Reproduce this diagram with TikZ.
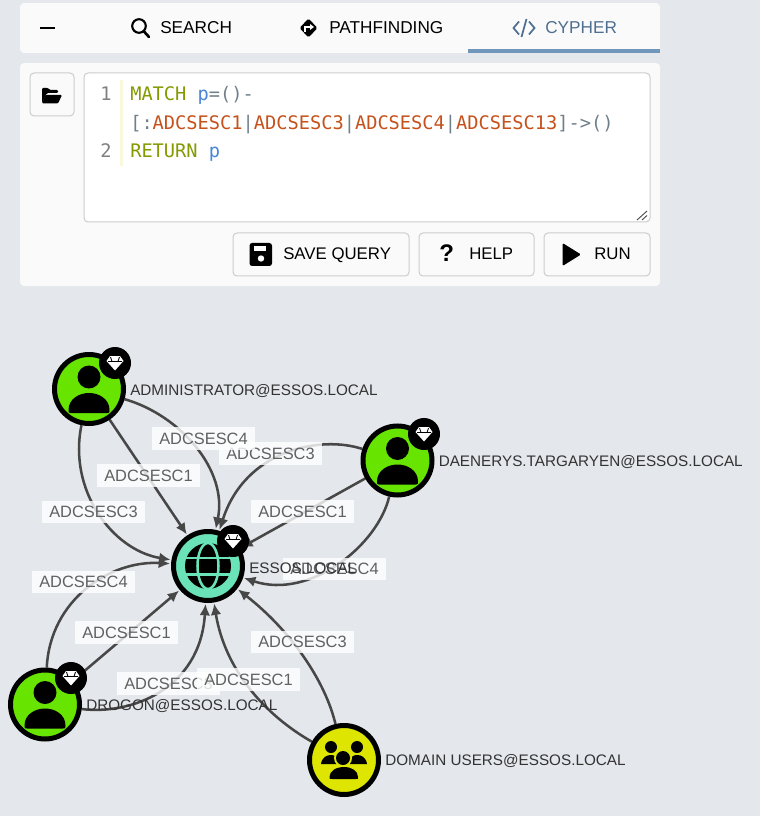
\documentclass[tikz,border=0pt]{standalone}
\usepackage{fontspec}
\setmainfont{Liberation Sans}
\newfontfamily\codefont{DejaVu Sans Mono}
\usetikzlibrary{arrows.meta,backgrounds}
\definecolor{pagebg}{HTML}{E4E7EB}
\definecolor{panelbg}{HTML}{FAFAFA}
\definecolor{btnborder}{HTML}{CCCCCC}
\definecolor{tabblue}{HTML}{7096BB}
\definecolor{tabtext}{HTML}{4F6F90}
\definecolor{gutter}{HTML}{FAF8DC}
\definecolor{kw}{HTML}{859900}
\definecolor{var}{HTML}{4A86D8}
\definecolor{lbl}{HTML}{C5521C}
\definecolor{punct}{HTML}{70808A}
\definecolor{usergreen}{HTML}{67E500}
\definecolor{groupyellow}{HTML}{DDE500}
\definecolor{domainteal}{HTML}{6BE3B9}
\tikzset{
  x=.75pt,y=-.75pt,
  panelbox/.style={fill=panelbg,rounded corners=3pt},
  btnbox/.style={draw=btnborder,line width=.75pt,fill=panelbg,rounded corners=3pt},
  tabtxt/.style={anchor=base west,inner sep=0,font=\fontsize{12.9pt}{14pt}\selectfont},
  btntxt/.style={anchor=base west,inner sep=0,font=\fontsize{12.6pt}{14pt}\selectfont},
  codetxt/.style={anchor=base west,inner sep=0,font=\codefont\fontsize{14pt}{16pt}\selectfont},
  numtxt/.style={anchor=base east,inner sep=0,text=gray,font=\codefont\fontsize{14pt}{16pt}\selectfont},
  gnode/.style={circle,draw=black,line width=3.75pt,minimum size=51.75pt,inner sep=0pt},
  edge/.style={draw=black!72,line width=1.9pt,shorten >=.8pt,-{Latex[length=8.5pt,width=8pt]}},
  elabel/.style={fill=white,fill opacity=.8,text opacity=1,text=black!62,inner sep=0pt,
    minimum width=77.5pt,minimum height=16.8pt,font=\fontsize{12.3pt}{14pt}\selectfont},
  nlabel/.style={anchor=base west,inner sep=0pt,text=black!80,font=\fontsize{11.45pt}{14pt}\selectfont},
  personicon/.pic={
    \fill (0,-12) circle (11.5);
    \fill (-20.5,21) .. controls (-20.5,10) and (-10,4) .. (0,4)
      .. controls (10,4) and (20.5,10) .. (20.5,21)
      .. controls (20.5,24) .. (18,24) -- (-18,24) .. controls (-20.5,24) .. cycle;
  },
  gemicon/.pic={
    \fill[black] (0,0) circle (16);
    \fill[white] (-5,-7) -- (5,-7) -- (8.5,-2) -- (0,7.5) -- (-8.5,-2) -- cycle;
    \draw[black,line width=.6pt] (-7,-1.5) -- (-3,-1.5) -- (-4.5,-6) (7,-1.5) -- (3,-1.5) -- (4.5,-6) (-3,-1.5) -- (3,-1.5);
  },
  globeicon/.pic={
    \fill (0,0) circle (23);
    \draw[domainteal,line width=1.9pt] (0,0) ellipse (10.5 and 23);
    \draw[domainteal,line width=1.9pt] (-22,-8) -- (22,-8) (-22,8.5) -- (22,8.5);
  },
  groupicon/.pic={
    \fill (-13,-13) circle (6) (13,-13) circle (6);
    \fill (-23,4) .. controls (-22,-3) and (-17,-5) .. (-13,-5) .. controls (-9,-5) and (-6,-3) .. (-5,4) -- cycle;
    \fill (23,4) .. controls (22,-3) and (17,-5) .. (13,-5) .. controls (9,-5) and (6,-3) .. (5,4) -- cycle;
    \fill[groupyellow] (-1,-2) circle (9);
    \fill (-1,-2) circle (7);
    \fill[groupyellow] (-16,19) -- (-16,10) .. controls (-12,5) and (10,5) .. (15,10) -- (15,19) -- cycle;
    \fill (-14.5,17) .. controls (-14.5,11) and (-8,7) .. (0,7) .. controls (8,7) and (14,11) .. (14,17) .. controls (14,19) .. (12,19) -- (-12,19) .. controls (-14.5,19) .. cycle;
  },
}
\begin{document}
\begin{tikzpicture}
\useasboundingbox (0,0) rectangle (760,816);
\begin{scope}[on background layer]
\fill[pagebg] (0,0) rectangle (760,816);
\end{scope}

% top panels
\fill[panelbox] (20,3) rectangle (660,53);
\fill[tabblue] (468,49) rectangle (660,53);
\fill[panelbox] (20,63) rectangle (660,286);

% tab bar
\fill[black] (40,27) rectangle (55,29.5);
\draw[black,line width=1.6pt] (139,26) circle (6.8);
\draw[black,line width=2pt,line cap=round] (144,31.5) -- (149,37);
\node[tabtxt] (tsearch) at (160,34) {SEARCH};
\fill[black,rounded corners=1.2pt] (308.5,18.5) -- (317.5,28) -- (308.5,37.5) -- (299.5,28) -- cycle;
\draw[white,line width=1.1pt] (305,32) -- (305,27) -- (311,27);
\fill[white] (310,24) -- (314,27) -- (310,30) -- cycle;
\node[tabtxt] (tpath) at (329,34) {PATHFINDING};
\draw[tabtext,line width=1.3pt] (519,21.5) -- (513.5,28) -- (519,34.5);
\draw[tabtext,line width=1.3pt] (529,21.5) -- (534.5,28) -- (529,34.5);
\draw[tabtext,line width=1.3pt] (526.5,19) -- (521.5,37);
\node[tabtxt,text=tabtext] (tcypher) at (545,34) {CYPHER};

% folder button
\draw[btnbox] (30,73) rectangle (74,116);
\fill[black,rounded corners=.8pt] (42,103) -- (42,88) -- (48,88) -- (50,90) -- (58,90) -- (58,93) -- (47,93) -- (42,103);
\fill[black,rounded corners=.8pt] (45.5,95) -- (62,95) -- (58,103.5) -- (42,103.5) -- cycle;

% editor
\draw[btnbox,fill=white] (84,73) rectangle (650,222);
\fill[gutter] (120,80) rectangle (123,166);
\node[numtxt] (n1) at (112,101) {1};
\node[numtxt] (n2) at (112,158) {2};
\node[codetxt] (c1) at (130,101) {\textcolor{kw}{MATCH} \textcolor{var}{p}\textcolor{punct}{=()-}};
\node[codetxt] (c2) at (130,129.5) {\textcolor{punct}{[:}\textcolor{lbl}{ADCSESC1}\textcolor{punct}{|}\textcolor{lbl}{ADCSESC3}\textcolor{punct}{|}\textcolor{lbl}{ADCSESC4}\textcolor{punct}{|}\textcolor{lbl}{ADCSESC13}\textcolor{punct}{]->()}};
\node[codetxt] (c3) at (130,158) {\textcolor{kw}{RETURN} \textcolor{var}{p}};
\draw[black!70,line width=.7pt] (637,220) -- (647,211) (642,220) -- (647,215.5);

% buttons
\draw[btnbox] (233,233) rectangle (409,276);
\draw[btnbox] (419,233) rectangle (534,276);
\draw[btnbox] (544,233) rectangle (650,276);
\fill[black,rounded corners=2pt] (249.5,243) rectangle (272,266);
\fill[white] (253.5,246.5) rectangle (266,251.5);
\fill[white] (261,258.5) circle (3.2);
\node[btntxt] (bsave) at (283,260) {SAVE QUERY};
\node[anchor=base west,inner sep=0,font=\fontsize{18pt}{20pt}\selectfont\bfseries] (qmark) at (439,261.5) {?};
\node[btntxt] (bhelp) at (469,260) {HELP};
\fill[black,rounded corners=1pt] (562.5,243) -- (581,254.5) -- (562.5,266) -- cycle;
\node[btntxt] (brun) at (594,260) {RUN};

% graph nodes
\node[gnode,fill=usergreen] (admin) at (89,389) {};
\node[gnode,fill=usergreen] (daen) at (397.5,460.5) {};
\node[gnode,fill=domainteal] (essos) at (208,566) {};
\node[gnode,fill=usergreen] (drogon) at (45,704.5) {};
\node[gnode,fill=groupyellow] (dusers) at (344,760) {};
\pic at (admin) {personicon};
\pic at (daen) {personicon};
\pic at (drogon) {personicon};
\pic at (essos) {globeicon};
\pic at (dusers) {groupicon};
\pic at (115,363) {gemicon};
\pic at (424,434) {gemicon};
\pic at (233,541) {gemicon};
\pic at (71,678) {gemicon};

% connectors
\begin{scope}[on background layer]
\draw[edge] (admin) -- (essos);
\draw[edge] (admin) .. controls (68,490) and (112,550) .. (essos);
\draw[edge] (admin) .. controls (180,415) and (228,470) .. (essos);
\draw[edge] (daen) .. controls (320,435) and (245,450) .. (essos);
\draw[edge] (daen) -- (essos);
\draw[edge] (daen) .. controls (378,545) and (310,600) .. (essos);
\draw[edge] (drogon) .. controls (50,600) and (110,560) .. (essos);
\draw[edge] (drogon) -- (essos);
\draw[edge] (drogon) .. controls (130,715) and (200,690) .. (essos);
\draw[edge] (dusers) .. controls (265,715) and (225,670) .. (essos);
\draw[edge] (dusers) .. controls (325,680) and (290,630) .. (essos);
\end{scope}

% connector labels
\node[elabel] (e1) at (270.5,453.5) {ADCSESC3};
\node[elabel] (e2) at (203.5,438.5) {ADCSESC4};
\node[elabel] (e3) at (148.5,475.5) {ADCSESC1};
\node[elabel] (e4) at (93.5,512) {ADCSESC3};
\node[elabel] (e5) at (302.5,511.5) {ADCSESC1};
\node[elabel] (e6) at (334.5,569) {ADCSESC4};
\node[elabel] (e7) at (83.5,582) {ADCSESC4};
\node[elabel] (e8) at (126.5,632.5) {ADCSESC1};
\node[elabel] (e9) at (168.5,683.5) {ADCSESC3};
\node[elabel] (e10) at (248.5,679.5) {ADCSESC1};
\node[elabel] (e11) at (302.5,642) {ADCSESC3};

% node labels
\node[nlabel] (ladmin) at (130,395) {ADMINISTRATOR@ESSOS.LOCAL};
\node[nlabel] (ldaen) at (438.5,466) {DAENERYS.TARGARYEN@ESSOS.LOCAL};
\node[nlabel] (lessos) at (249,573) {ESSOS.LOCAL};
\node[nlabel] (ldrogon) at (86,710) {DROGON@ESSOS.LOCAL};
\node[nlabel] (lusers) at (385,765) {DOMAIN USERS@ESSOS.LOCAL};
\end{tikzpicture}
\end{document}
